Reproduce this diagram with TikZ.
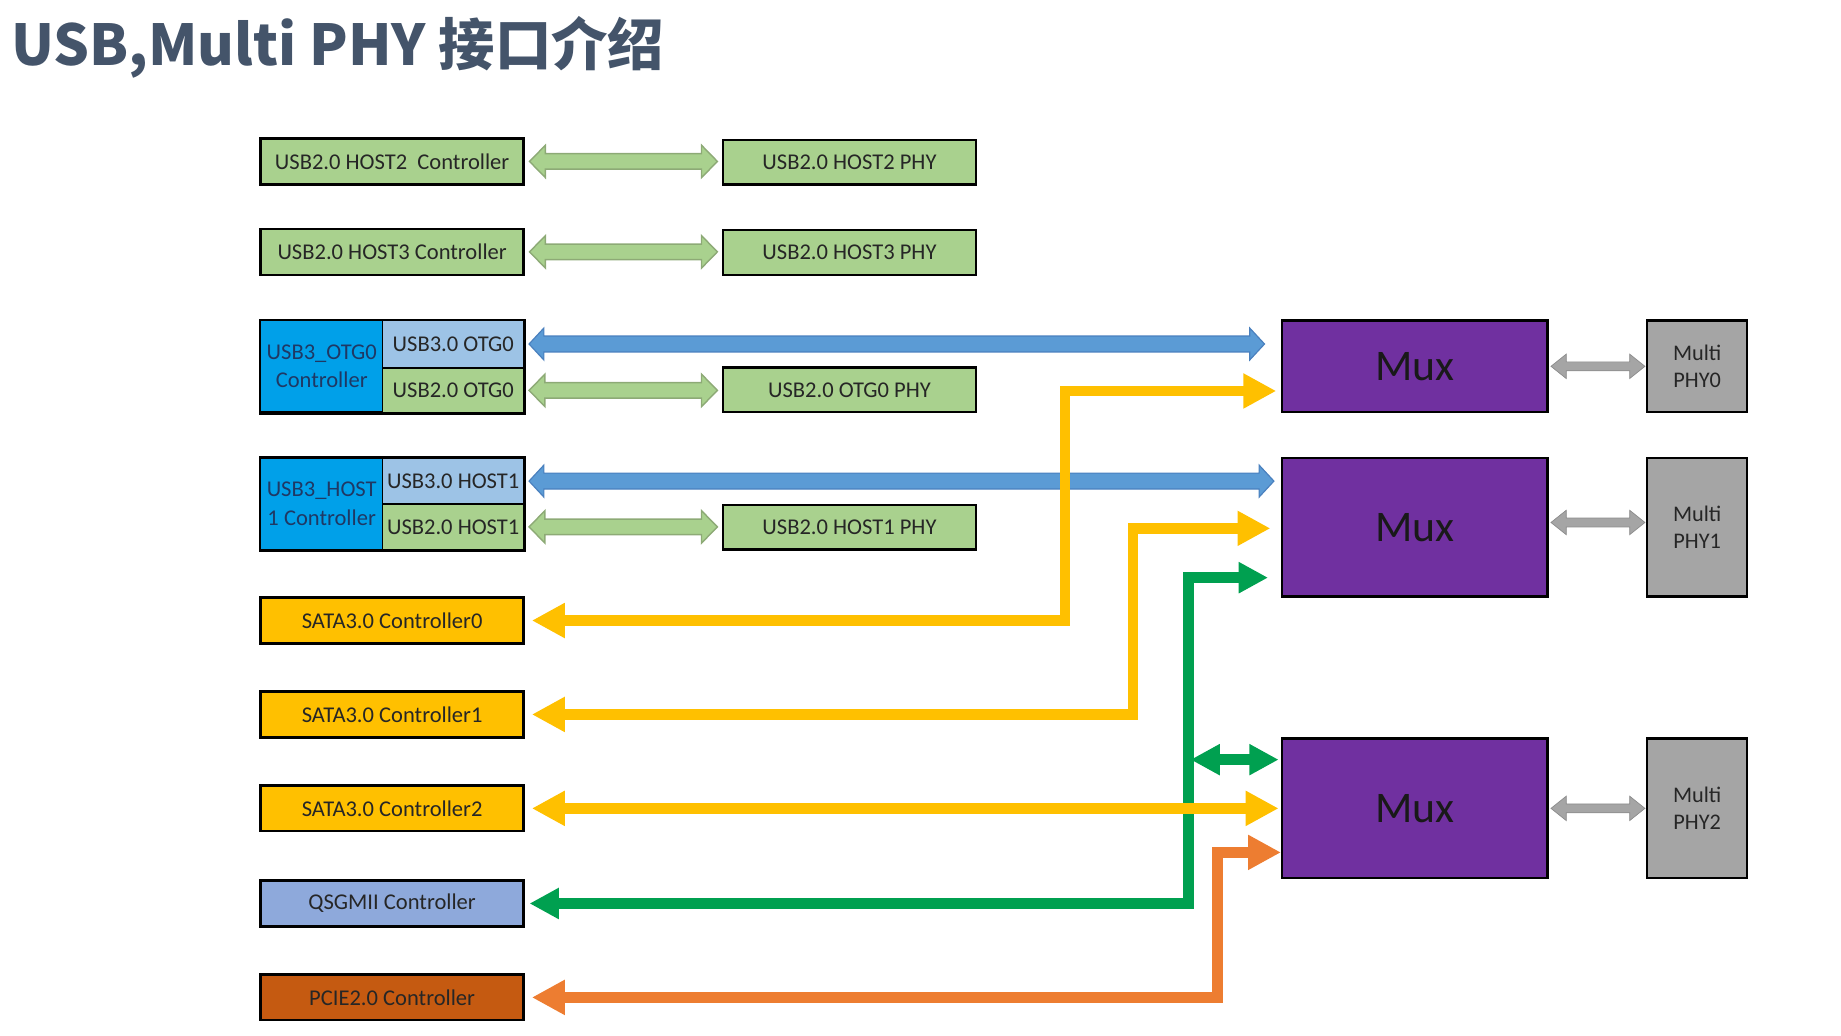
\documentclass[tikz,border=0pt]{standalone}
\usepackage{fontspec}
\setmainfont{Carlito}
\newfontfamily\titlefont{Noto Sans CJK SC}
\usetikzlibrary{arrows.meta,calc}

\definecolor{titlec}{HTML}{44546A}
\definecolor{gfill}{HTML}{A9D18E}
\definecolor{gline}{HTML}{8DAA76}
\definecolor{bcell}{HTML}{00A0E9}
\definecolor{lbcell}{HTML}{9DC3E6}
\definecolor{barrow}{HTML}{5B9BD5}
\definecolor{bline}{HTML}{4A80BE}
\definecolor{yel}{HTML}{FFC000}
\definecolor{qsc}{HTML}{8EA9DB}
\definecolor{grn}{HTML}{00A050}
\definecolor{pcief}{HTML}{C55A11}
\definecolor{orng}{HTML}{ED7D31}
\definecolor{muxc}{HTML}{7030A0}
\definecolor{grayc}{HTML}{A5A5A5}
\definecolor{txt}{HTML}{262626}
\definecolor{navy}{HTML}{1F3864}

\begin{document}
\begin{tikzpicture}[x=0.5pt,y=-0.5pt,
  box/.style={draw=black, line width=1pt, inner sep=0pt, text=txt,
    minimum width=112pt, minimum height=19.5pt, font=\fontsize{9.6}{11.5}\selectfont},
  phybox/.style={box, minimum width=107.5pt, minimum height=19pt},
  cell/.style={draw=black, line width=0.6pt, inner sep=0pt, text=txt,
    font=\fontsize{9.6}{11.5}\selectfont},
  lcell/.style={cell, fill=bcell, text=navy, align=center, minimum width=52pt,
    minimum height=39pt, font=\fontsize{9.6}{12}\selectfont},
  rcell/.style={cell, minimum width=60pt},
  muxbox/.style={draw=black, line width=1pt, fill=muxc, minimum width=113pt,
    inner sep=0pt, text=black!90, font=\fontsize{18.6}{20}\selectfont},
  mphy/.style={draw=black, line width=1pt, fill=grayc, minimum width=42.5pt,
    inner sep=0pt, align=center, text=txt, font=\fontsize{9.5}{11.5}\selectfont},
  blockdbl/.style n args={3}{to path={let \p1=(\tikztostart), \p2=(\tikztotarget) in
    (\x1,\y1) -- (\x1+#1,\y1+#2) -- (\x1+#1,\y1+#3) -- (\x2-#1,\y1+#3)
    -- (\x2-#1,\y1+#2) -- (\x2,\y1) -- (\x2-#1,\y1-#2) -- (\x2-#1,\y1-#3)
    -- (\x1+#1,\y1-#3) -- (\x1+#1,\y1-#2) -- cycle}},
  lgarr/.style={blockdbl={6.75pt}{6.9pt}{3.3pt}, fill=gfill, draw=gline, line width=0.6pt},
  bluearr/.style={blockdbl={6.3pt}{6.8pt}{3.4pt}, fill=barrow, draw=bline, line width=0.5pt},
  grayarr/.style={blockdbl={6.5pt}{5.2pt}{1.9pt}, fill=grayc, draw=grayc!85!black, line width=0.3pt},
  fatline/.style={line width=4.5pt, line join=miter,
    {Triangle[length=14pt,width=14pt]}-{Triangle[length=14pt,width=14pt]}},
  gline2/.style={line width=4.8pt, line join=miter, draw=grn,
    {Triangle[length=12.5pt,width=12.5pt]}-{Triangle[length=12.5pt,width=12.5pt]}}
]
\useasboundingbox (0,0) rectangle (1568,882);

% title
\node[anchor=base west, inner sep=0pt, text=titlec,
  font=\titlefont\bfseries\fontsize{24}{28}\selectfont] (title) at (9,56) {USB,Multi PHY 接口介绍};

% USB2.0 hosts
\node[box, fill=gfill] (h2c) at (334,137.5) {USB2.0 HOST2~ Controller};
\node[phybox, fill=gfill] (h2p) at (723.5,138) {USB2.0 HOST2 PHY};
\node[box, fill=gfill] (h3c) at (334,214.5) {USB2.0 HOST3 Controller};
\node[phybox, fill=gfill] (h3p) at (723.5,215) {USB2.0 HOST3 PHY};

% OTG0 group
\node[lcell] (o0l) at (274,312) {USB3\_OTG0\\Controller};
\node[rcell, fill=lbcell, minimum height=20pt] (o0u3) at (386,293) {USB3.0 OTG0};
\node[rcell, fill=gfill, minimum height=19pt] (o0u2) at (386,332.5) {USB2.0 OTG0};
\draw[line width=1pt] (o0l.north west) rectangle (o0u2.south east);
\node[phybox, fill=gfill] (o0p) at (723.5,332) {USB2.0 OTG0 PHY};

% HOST1 group
\node[lcell] (h1l) at (274,429) {USB3\_HOST\\1 Controller};
\node[rcell, fill=lbcell, minimum height=19.5pt] (h1u3) at (386,409.75) {USB3.0 HOST1};
\node[rcell, fill=gfill, minimum height=19.5pt] (h1u2) at (386,448.75) {USB2.0 HOST1};
\draw[line width=1pt] (h1l.north west) rectangle (h1u2.south east);
\node[phybox, fill=gfill] (h1p) at (723.5,449) {USB2.0 HOST1 PHY};

% other controllers
\node[box, fill=yel] (sata0) at (334,528.5) {SATA3.0 Controller0};
\node[box, fill=yel] (sata1) at (334,608.5) {SATA3.0 Controller1};
\node[box, fill=yel] (sata2) at (334,688.5) {SATA3.0 Controller2};
\node[box, fill=qsc] (qs) at (334,769.5) {QSGMII Controller};
\node[box, fill=pcief] (pcie) at (334,849.5) {PCIE2.0 Controller};

% Mux blocks and Multi PHYs
\node[muxbox, minimum height=39pt] (mux0) at (1205,312) {Mux};
\node[muxbox, minimum height=59pt] (mux1) at (1205,449) {Mux};
\node[muxbox, minimum height=59.5pt] (mux2) at (1205,688.5) {Mux};
\node[mphy, minimum height=39pt] (phy0) at (1445.5,312) {Multi\\PHY0};
\node[mphy, minimum height=59pt] (phy1) at (1445.5,449) {Multi\\PHY1};
\node[mphy, minimum height=59.5pt] (phy2) at (1445.5,688.5) {Multi\\PHY2};

% light green USB2.0 links
\draw[lgarr] ($(h2c.east)+(4,0)$) to ($(h2p.west)+(-4,0)$);
\draw[lgarr] ($(h3c.east)+(4,0)$) to ($(h3p.west)+(-4,0)$);
\draw[lgarr] ($(o0u2.east)+(4,0)$) to ($(o0p.west)+(-4,0)$);
\draw[lgarr] ($(h1u2.east)+(4,0)$) to ($(h1p.west)+(-4,0)$);

% blue USB3.0 links
\draw[bluearr] ($(o0u3.east)+(4,0)$) to ($(mux0.west |- o0u3.east)+(-14,0)$);
\draw[bluearr] ($(h1u3.east)+(4,0)$) to ($(mux1.west |- h1u3.east)+(-6,0)$);

% gray Mux - PHY links
\draw[grayarr] ($(mux0.east)+(2,0)$) to ($(phy0.west)+(-1,0)$);
\draw[grayarr] ($(mux1.east)+(2,-4)$) to ($(phy1.west)+(-1,-4)$);
\draw[grayarr] ($(mux2.east)+(2,0)$) to ($(phy2.west)+(-1,0)$);

% green QSGMII links
\draw[gline2] ($(qs.east)+(4,0)$) -| ($(mux1.west)+(-79,43)$) -- ($(mux1.west)+(-11,43)$);
\draw[gline2] ($(mux2.west)+(-77,-41.5)$) -- ($(mux2.west)+(-2,-41.5)$);

% orange PCIE link
\draw[fatline, draw=orng] ($(pcie.east)+(6,0)$) -| ($(mux2.west)+(-54,37.5)$) -- ($(mux2.west)+(0,37.5)$);

% yellow SATA links
\draw[fatline, draw=yel] ($(sata0.east)+(6,0)$) -| ($(mux0.west)+(-184,21)$) -- ($(mux0.west)+(-4,21)$);
\draw[fatline, draw=yel] ($(sata1.east)+(6,0)$) -| ($(mux1.west)+(-126,1)$) -- ($(mux1.west)+(-9,1)$);
\draw[fatline, draw=yel] ($(sata2.east)+(6,0)$) -- ($(mux2.west |- sata2.east)+(-2,0)$);
\end{tikzpicture}
\end{document}
